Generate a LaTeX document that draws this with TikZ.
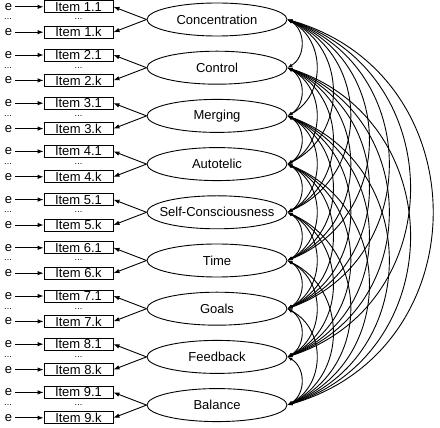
\documentclass[tikz,border=0pt]{standalone}
\usepackage{fontspec}
\setmainfont{Liberation Sans}
\usetikzlibrary{shapes.geometric,arrows.meta}
\begin{document}
\begin{tikzpicture}[x=1pt,y=1pt,
  font=\fontsize{13}{15}\selectfont, line width=0.9pt,
  factor/.style={ellipse, draw, minimum width=140pt, minimum height=33pt, inner sep=0pt},
  item/.style={rectangle, draw, minimum width=69pt, minimum height=12pt, inner sep=0pt},
  err/.style={inner sep=2.5pt},
  gap/.style={font=\fontsize{9}{9}\selectfont, inner sep=0pt},
  tip/.style={-{Latex[length=6pt,width=4.5pt]}},
  cov/.style={{Latex[length=5pt,width=3.5pt]}-{Latex[length=5pt,width=3.5pt]}}]
  \useasboundingbox (0,0) rectangle (440,428);

  % factors, items and errors
  \foreach \name [count=\i] in {Concentration,Control,Merging,Autotelic,Self-Consciousness,Time,Goals,Feedback,Balance}{
    \pgfmathsetmacro\y{408.5-48.2*(\i-1)}
    \node[factor, label=center:\name] (f\i) at (217,\y) {};
    \node[item] (item\i-1) at (78.5,\y+12.7) {Item \i.1};
    \node[item] (item\i-k) at (78.5,\y-12.7) {Item \i.k};
    \node[gap] (dots\i) at (78.5,\y) {...};
    \node[gap] (edots\i) at (8,\y) {...};
    \node[err] (e\i-1) at (8.5,\y+12.7) {e};
    \node[err] (e\i-k) at (8.5,\y-12.7) {e};
    \draw[tip] (e\i-1) -- (item\i-1);
    \draw[tip] (e\i-k) -- (item\i-k);
    \draw[tip] (f\i.west) -- (item\i-1.east);
    \draw[tip] (f\i.west) -- (item\i-k.east);
  }

  % covariances
  \foreach \i in {1,...,8}{
    \pgfmathtruncatemacro\next{\i+1}
    \foreach \j in {\next,...,9}{
      \pgfmathsetmacro\ang{58+2*(\j-\i)}
      \pgfmathsetmacro\loose{tan(\ang/2)/(1.5*sin(\ang))/0.3915}
      \draw[cov] (f\i.east) to[out=\ang-90, in=90-\ang, looseness=\loose] (f\j.east);
    }
  }
\end{tikzpicture}
\end{document}
